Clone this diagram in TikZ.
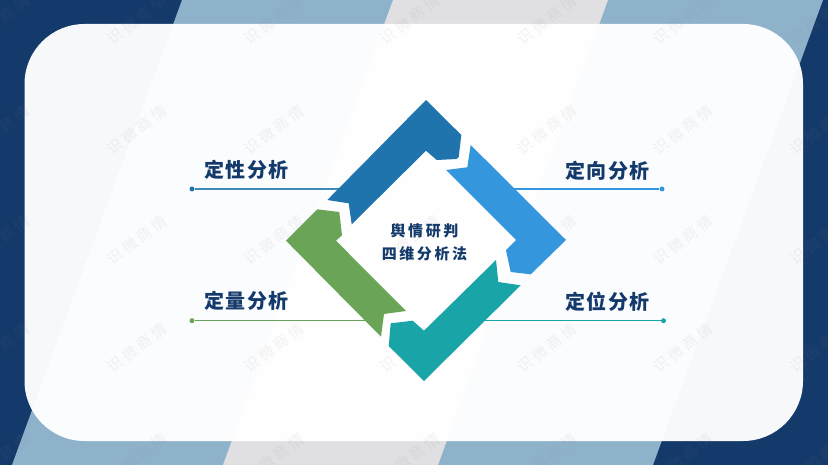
\documentclass[tikz,border=0pt]{standalone}
\usepackage{fontspec}
\newfontfamily\cjk[LetterSpace=6]{Noto Sans CJK SC}
\newfontfamily\cjkhub[LetterSpace=17]{Noto Sans CJK SC}
\newfontfamily\cjkwide[LetterSpace=20]{Noto Sans CJK SC}
\definecolor{navy}{HTML}{143A6B}
\definecolor{stripeblue}{HTML}{8FB2CB}
\definecolor{stripegray}{HTML}{E0E0E3}
\definecolor{armblue}{HTML}{1F74AD}
\definecolor{armsky}{HTML}{3496DC}
\definecolor{armteal}{HTML}{19A5A8}
\definecolor{armgreen}{HTML}{6AA557}
\begin{document}
\begin{tikzpicture}[
  x=1pt,y=-1pt,
  dot/.style={circle,fill=#1,minimum size=5pt,inner sep=0},
  tag/.style={text=navy,font=\cjk\bfseries\fontsize{20}{24}\selectfont,inner sep=0},
  hub/.style={text=navy,font=\cjkhub\bfseries\fontsize{15}{18}\selectfont,inner sep=0},
  wmark/.style={text=gray,opacity=.10,rotate=37,font=\cjkwide\fontsize{15}{18}\selectfont,inner sep=0},
  arrowline/.style={line width=1.4pt}]

  \useasboundingbox (0,0) rectangle (828,465);
  \clip (0,0) rectangle (828,465);
  \fill[navy] (0,0) rectangle (828,465);
  \foreach \sx/\sw/\scol in {182/212/stripeblue,607/216/stripeblue,393/215/stripegray}
    \fill[\scol] (\sx,0) -- ++(\sw,0) -- ++(-170,465) -- ++(-\sw,0) -- cycle;

  \fill[white,opacity=.97,rounded corners=60pt] (24.5,24) rectangle (803,441);

  \foreach \wx in {0,137,274,410,547,683,820}
    \foreach \wy in {20,130,240,348,458}
      \node[wmark] (wm-\wx-\wy) at (\wx,\wy) {识微商情};

  \node[dot=armblue] (dota) at (192,189) {};
  \node[dot=armsky] (dotb) at (662,189) {};
  \node[dot=armgreen] (dotc) at (192,320.7) {};
  \node[dot=armteal] (dotd) at (663.5,320.7) {};
  \coordinate (enda) at (340,189);
  \coordinate (endb) at (510,189);
  \coordinate (endc) at (375,320.7);
  \coordinate (endd) at (480,320.7);
  \draw[arrowline,armblue!85!white] (dota) -- (enda);
  \draw[arrowline,armsky] (dotb) -- (endb);
  \draw[arrowline,armgreen] (dotc) -- (endc);
  \draw[arrowline,armteal] (dotd) -- (endd);

  \fill[armblue] (426,100) -- (461.3,135) -- (458.7,157) -- (456.5,159) -- (436.7,160) -- (426,150.7)
    -- (351.7,224.3) -- (348.7,203.3) -- (327.3,200) -- cycle;
  \fill[armsky] (470.7,145) -- (566,240) -- (530.7,274.3) -- (510.7,272) -- (506,250) -- (516,240)
    -- (446,170) -- (467.3,167.3) -- cycle;
  \fill[armteal] (496,260) -- (498.3,282) -- (520.7,285.3) -- (424,381) -- (388.7,346) -- (390.7,323.3)
    -- (412.7,320.7) -- (424,330.7) -- cycle;
  \fill[armgreen] (286,240.7) -- (317.3,209.3) -- (339.3,212) -- (342,235.3) -- (336,240.7) -- (406,311)
    -- (384,314) -- (381,336.7) -- cycle;

  \node[tag] (qual) at (246.5,170) {定性分析};
  \node[tag] (dirn) at (607.5,171) {定向分析};
  \node[tag] (quan) at (246.5,300.7) {定量分析};
  \node[tag] (posn) at (607.5,302) {定位分析};

  \node[hub] (huba) at (424.5,231) {舆情研判};
  \node[hub] (hubb) at (424.5,254) {四维分析法};
\end{tikzpicture}
\end{document}
